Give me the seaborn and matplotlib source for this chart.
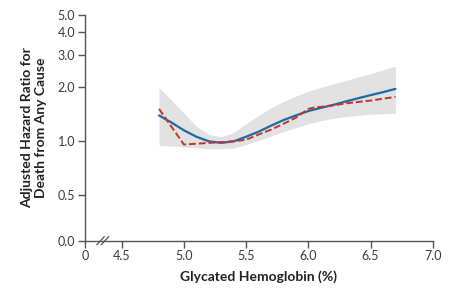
import matplotlib
matplotlib.use("Agg")
import matplotlib.pyplot as plt
import matplotlib.ticker as mticker
import pandas as pd
import seaborn as sns

# DATA

hba1c = [4.8, 4.9, 5.0, 5.1, 5.2, 5.3, 5.4, 5.5, 5.6, 5.7,
         5.8, 5.9, 6.0, 6.1, 6.2, 6.3, 6.4, 6.5, 6.6, 6.7]
hr_spline = [1.38, 1.26, 1.14, 1.05, 0.99, 0.97, 0.99, 1.05, 1.12, 1.21,
             1.30, 1.38, 1.46, 1.52, 1.58, 1.65, 1.72, 1.79, 1.86, 1.94]
ci_upper = [1.97, 1.68, 1.42, 1.20, 1.08, 1.05, 1.11, 1.24, 1.38, 1.52,
            1.65, 1.77, 1.88, 1.98, 2.07, 2.16, 2.26, 2.36, 2.47, 2.60]
ci_lower = [0.94, 0.93, 0.92, 0.91, 0.90, 0.90, 0.91, 0.95, 1.00, 1.06,
            1.12, 1.18, 1.24, 1.29, 1.33, 1.36, 1.38, 1.40, 1.41, 1.42]

hba1c_cat = [4.8, 5.0, 5.1, 5.2, 5.3, 5.4, 5.5, 5.6, 5.7, 5.8,
             5.9, 6.0, 6.05, 6.1, 6.2, 6.3, 6.4, 6.5, 6.6, 6.7]
hr_cat = [1.50, 0.95, 0.96, 0.97, 0.98, 0.99, 1.01, 1.08, 1.15, 1.24,
          1.34, 1.50, 1.53, 1.54, 1.57, 1.61, 1.64, 1.67, 1.71, 1.75]

y_ticks = [0.2766, 0.5, 1.0, 2.0, 3.0, 4.0, 5.0]
y_labels = ["0.0", "0.5", "1.0", "2.0", "3.0", "4.0", "5.0"]
x_ticks = [4.205, 4.5, 5.0, 5.5, 6.0, 6.5, 7.0]
x_labels = ["0", "4.5", "5.0", "5.5", "6.0", "6.5", "7.0"]

spline_df = pd.DataFrame({"x": hba1c, "y": hr_spline})
cat_df = pd.DataFrame({"x": hba1c_cat, "y": hr_cat})

# PLOT

sns.set_style("white")
plt.rcParams["font.family"] = ["Lato", "DejaVu Sans"]

fig = plt.figure(figsize=(4.51, 3.02), dpi=100)
ax = fig.add_axes([0.1885, 0.203, 0.771, 0.747])

axis_col = "#555555"

ax.fill_between(hba1c, ci_lower, ci_upper, color="#e2e2e2", lw=0, zorder=1)
sns.lineplot(data=spline_df, x="x", y="y", ax=ax, color="#1f6aa5", lw=1.6, zorder=3)
sns.lineplot(data=cat_df, x="x", y="y", ax=ax, color="#c8312b", lw=1.4,
             linestyle=(0, (3.5, 1.5)), zorder=4)

ax.set_yscale("log", base=2)
ax.set_ylim(y_ticks[0], 5.0)
ax.set_xlim(x_ticks[0], 7.0)
ax.yaxis.set_major_locator(mticker.FixedLocator(y_ticks))
ax.yaxis.set_major_formatter(mticker.FixedFormatter(y_labels))
ax.yaxis.set_minor_locator(mticker.NullLocator())
ax.set_xticks(x_ticks)
ax.set_xticklabels(x_labels)

for side in ["top", "right"]:
    ax.spines[side].set_visible(False)
for side in ["left", "bottom"]:
    ax.spines[side].set_color(axis_col)
    ax.spines[side].set_linewidth(1.0)

ax.tick_params(axis="both", which="major", bottom=True, left=True,
               direction="out", length=5, width=1.0,
               color=axis_col, labelcolor="#3a3a3a", labelsize=9, pad=2)

# axis break marks
trans = ax.get_xaxis_transform()
for dx in [0.0, 0.035]:
    ax.plot([4.30 + dx, 4.36 + dx], [-0.018, 0.018], transform=trans,
            color=axis_col, lw=0.9, clip_on=False)

ax.set_xlabel("Glycated Hemoglobin (%)", fontsize=10, fontweight="bold",
              color="#222222", labelpad=6)
ax.set_ylabel("Adjusted Hazard Ratio for\nDeath from Any Cause", fontsize=10,
              fontweight="bold", color="#222222", labelpad=8, linespacing=1.1)

plt.savefig("out.png", dpi=100)
